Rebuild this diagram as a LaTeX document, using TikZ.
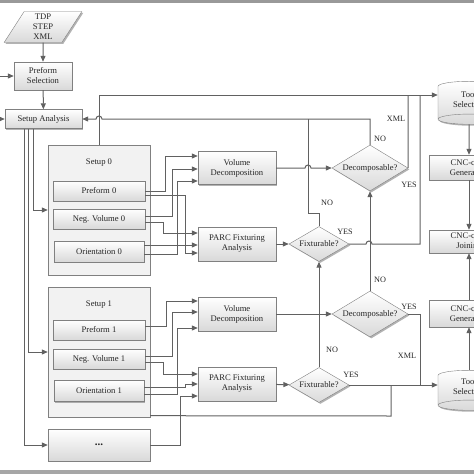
\documentclass[tikz,border=0pt]{standalone}
\usepackage{fontspec}
\setmainfont{Liberation Serif}
\usetikzlibrary{shapes.geometric,arrows.meta,shadows}

\tikzset{
  every node/.style={font=\fontsize{8.6}{10}\selectfont, text=black!85, align=center, inner sep=1pt},
  shd/.style={drop shadow={shadow xshift=1.4pt,shadow yshift=-1.4pt,fill=black!50,opacity=.6}},
  blk/.style={rectangle, draw=black!50, top color=white, bottom color=black!15, shd},
  grp/.style={rectangle, draw=black!50, fill=black!5, shd},
  dec/.style={diamond, aspect=1.7, draw=black!50, top color=white, bottom color=black!15, shd, inner sep=0pt},
  tank/.style={cylinder, shape border rotate=270, aspect=.3, draw=black!50, top color=white, bottom color=black!15, shd},
  wire/.style={draw=black!62, line width=1pt},
  arr/.style={wire, -{Triangle[length=6pt,width=5pt]}},
  lbl/.style={font=\fontsize{8.2}{9}\selectfont, inner sep=0pt},
}

\begin{document}
\begin{tikzpicture}[x=1pt,y=-1pt]
  \useasboundingbox (0,0) rectangle (474,474);
  \clip (0,0) rectangle (474,474);
  \fill[black!40] (0,0) rectangle (474,3);
  \fill[black!35] (0,470) rectangle (474,474);

  % input and setup analysis
  \node[trapezium, trapezium left angle=67, trapezium right angle=113, trapezium stretches=true,
        minimum width=78pt, minimum height=31pt, draw=black!50, top color=white, bottom color=black!15, shd]
        (src) at (43,27) {TDP\\STEP\\XML};
  \node[blk, minimum width=58pt, minimum height=28pt] (ps) at (43,76) {Preform\\Selection};
  \node[blk, minimum width=77pt, minimum height=19pt] (sa) at (43.5,119) {Setup Analysis};

  % setups
  \node[grp, minimum width=102pt, minimum height=130pt] (st0) at (99,210) {};
  \node (st0t) at (99,163) {Setup 0};
  \node[blk, minimum width=92pt, minimum height=20pt] (pf0) at (99,191) {Preform 0};
  \node[blk, minimum width=92pt, minimum height=20pt] (nv0) at (99,219) {Neg. Volume 0};
  \node[blk, minimum width=90pt, minimum height=21pt] (or0) at (99,251.5) {Orientation 0};

  \node[grp, minimum width=102pt, minimum height=130pt] (st1) at (99,352) {};
  \node (st1t) at (99,305) {Setup 1};
  \node[blk, minimum width=92pt, minimum height=20pt] (pf1) at (99,330) {Preform 1};
  \node[blk, minimum width=92pt, minimum height=20pt] (nv1) at (99,359) {Neg. Volume 1};
  \node[blk, minimum width=90pt, minimum height=21pt] (or1) at (99,391) {Orientation 1};

  \node[blk, minimum width=102pt, minimum height=32pt] (dots) at (99,445) {\fontsize{11}{11}\selectfont\textbf{...}};

  % analysis blocks
  \node[blk, minimum width=78pt, minimum height=33pt] (vd0) at (237,168) {Volume\\Decomposition};
  \node[blk, minimum width=78pt, minimum height=34pt] (pa0) at (237,244) {PARC Fixturing\\Analysis};
  \node[blk, minimum width=78pt, minimum height=34pt] (vd1) at (237,314) {Volume\\Decomposition};
  \node[blk, minimum width=78pt, minimum height=34pt] (pa1) at (237,384) {PARC Fixturing\\Analysis};

  \node[dec, minimum width=60pt, minimum height=35pt] (fx0) at (319,244) {Fixturable?};
  \node[dec, minimum width=60pt, minimum height=35pt] (fx1) at (319,385) {Fixturable?};
  \node[dec, minimum width=76pt, minimum height=46pt] (dc0) at (370,168) {Decomposable?};
  \node[dec, minimum width=76pt, minimum height=46pt] (dc1) at (370,314) {Decomposable?};

  % right column
  \node[tank, minimum width=62pt, minimum height=43pt] (ts0) at (469,99.5) {Tool\\Selection};
  \node[blk, minimum width=80pt, minimum height=25pt] (cg0) at (469,167.5) {CNC-code\\Generation};
  \node[blk, minimum width=80pt, minimum height=23pt] (cj) at (469,241.5) {CNC-code\\Joining};
  \node[blk, minimum width=80pt, minimum height=27pt] (cg1) at (469,313.5) {CNC-code\\Generation};
  \node[tank, minimum width=62pt, minimum height=40pt] (ts1) at (469,387) {Tool\\Selection};

  \coordinate (inA) at (0,76);
  \coordinate (inB) at (0,119);
  \coordinate (j0) at (308,119);

  % main flow
  \draw[arr] (src) -- (ps);
  \draw[arr] (ps) -- (sa);
  \draw[arr] (inA) -- (ps);
  \draw[arr] (inB) -- (sa);
  \draw[arr] ([xshift=-10.5pt]sa.south) |- (st0);
  \draw[arr] ([xshift=-15.5pt]sa.south) |- (st1);
  \draw[arr] ([xshift=-19.5pt]sa.south) |- (dots);

  % setup 0 wiring
  \draw[arr] (pf0.east) -| (165,156) -- ([yshift=12pt]vd0.west);
  \draw[arr] ([yshift=3pt]nv0.east) -| (172,169) -- ([yshift=-1pt]vd0.west);
  \draw[arr] ([yshift=-3pt]or0.east) -| (177,181) -- ([yshift=-13pt]vd0.west);
  \draw[arr] ([yshift=-3pt]nv0.east) -| (163,233) -- ([yshift=11pt]pa0.west);
  \draw[arr] ([yshift=6.5pt]or0.east) -- ([yshift=-1pt]pa0.west);
  \draw[arr] ([yshift=-4pt]pf0.east) -| (185,253) -- ([yshift=-9pt]pa0.west);

  % setup 1 wiring
  \draw[arr] ([yshift=4pt]pf1.east) -| (166,301) -- ([yshift=13pt]vd1.west);
  \draw[arr] ([yshift=3pt]nv1.east) -| (172,312) -- ([yshift=2pt]vd1.west);
  \draw[arr] ([yshift=-3pt]or1.east) -| (177,328) -- ([yshift=-14pt]vd1.west);
  \draw[arr] ([yshift=-3pt]nv1.east) -| (163,374) -- ([yshift=10pt]pa1.west);
  \draw[arr] ([yshift=4pt]or1.east) -| (185,384) -- (pa1.west);
  \draw[arr] (dots.east) -| (180,396) -- ([yshift=-12pt]pa1.west);

  % decisions, upper
  \draw[arr] (vd0) -- (305,168) arc[start angle=180, end angle=0, radius=3pt] -- (dc0);
  \draw[arr] (pa0) -- (fx0);
  \draw[arr] (dc0.north) -- (370,119) -- (102,119) arc[start angle=0, end angle=180, radius=3pt] -- (sa.east);
  \draw[wire] (fx0.north) -- (319,213) -- (308,213) -- (j0);
  \draw[arr] (st0.north) |- ([yshift=4.5pt]ts0.west);
  \draw[wire] (dc0.east) -- (408,95);
  \draw[wire] (fx0.east) -- (366,244) arc[start angle=180, end angle=0, radius=3pt] -- (420,244) -- (420,95);

  % decisions, lower
  \draw[arr] (vd1) -- (dc1);
  \draw[arr] (pa1) -- (fx1);
  \draw[arr] (dc1.north) -- (dc0.south);
  \draw[arr] (fx1.north) -- (fx0.south);
  \draw[wire] (dc1.east) -- (420,314) -- (420,385);
  \draw[arr] (fx1.east) -- (ts1.west |- fx1.east);
  \draw[wire] ([yshift=1.5pt]st1.south east) -- (391,416) -- (391,385);

  % right column
  \draw[arr] (ts0) -- (cg0);
  \draw[arr] (cg0) -- (cj);
  \draw[arr] (cg1) -- (cj);
  \draw[arr] (ts1) -- (cg1);

  % labels
  \node[lbl] (l1) at (380,139) {NO};
  \node[lbl] (l2) at (396,119) {XML};
  \node[lbl] (l3) at (409,185) {YES};
  \node[lbl] (l4) at (327,203) {NO};
  \node[lbl] (l5) at (345,232) {YES};
  \node[lbl] (l6) at (380,280) {NO};
  \node[lbl] (l7) at (409,307) {YES};
  \node[lbl] (l8) at (407,356) {XML};
  \node[lbl] (l9) at (332,350) {NO};
  \node[lbl] (l10) at (351,375) {YES};
\end{tikzpicture}
\end{document}
